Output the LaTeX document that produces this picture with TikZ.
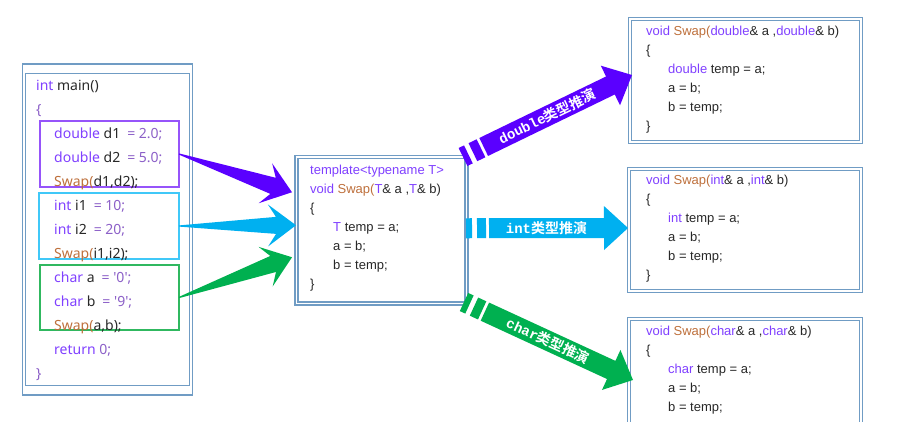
\documentclass[tikz,border=0pt]{standalone}
\usepackage{fontspec}
\setmainfont{Liberation Sans}
\newfontfamily\yaheifont{Noto Sans}
\newfontfamily\labelmono{Liberation Mono}
\newfontfamily\cjkfont{Noto Sans CJK SC}[BoldFont={Noto Sans CJK SC Bold}]
\usetikzlibrary{calc}

\definecolor{boxblue}{RGB}{112,156,196}
\definecolor{kwpurple}{RGB}{128,64,255}
\definecolor{numpurple}{RGB}{140,96,200}
\definecolor{fnbrown}{RGB}{190,112,60}
\definecolor{codegray}{RGB}{40,40,40}
\definecolor{dblpurple}{RGB}{90,0,255}
\definecolor{intcyan}{RGB}{0,176,240}
\definecolor{chargreen}{RGB}{0,176,80}
\definecolor{dblline}{RGB}{150,84,250}
\definecolor{intline}{RGB}{64,200,248}
\definecolor{charline}{RGB}{48,184,96}

\newcommand\kw[1]{\textcolor{kwpurple}{#1}}
\newcommand\nm[1]{\textcolor{numpurple}{#1}}
\newcommand\fn[1]{\textcolor{fnbrown}{#1}}
\newcommand\arrowlabel[2]{{\labelmono\bfseries #1}{\cjkfont\bfseries #2}}

% 太い矢印 (tail, tip, colour)
\newcommand\bigarrow[3]{%
  \fill[#3] ($(#1)!0.6pt!90:(#2)$) -- ($(#2)!20pt!(#1)!8.5pt!90:(#2)$)
    -- ($(#2)!28pt!(#1)!21pt!90:(#2)$) -- (#2)
    -- ($(#2)!28pt!(#1)!21pt!-90:(#2)$) -- ($(#2)!20pt!(#1)!8.5pt!-90:(#2)$)
    -- ($(#1)!0.6pt!-90:(#2)$) -- cycle;}

% 推演の矢印 (start, tip, colour, label)
\newcommand\thinarrow[4]{%
  \fill[#3] ($(#1)!10pt!90:(#2)$) -- ($(#1)!6pt!(#2)!10pt!90:(#2)$)
    -- ($(#1)!6pt!(#2)!10pt!-90:(#2)$) -- ($(#1)!10pt!-90:(#2)$) -- cycle;
  \fill[#3] ($(#1)!11pt!(#2)!10pt!90:(#2)$) -- ($(#1)!20pt!(#2)!10pt!90:(#2)$)
    -- ($(#1)!20pt!(#2)!10pt!-90:(#2)$) -- ($(#1)!11pt!(#2)!10pt!-90:(#2)$) -- cycle;
  \fill[#3] ($(#1)!23pt!(#2)!10pt!90:(#2)$) -- ($(#2)!24pt!(#1)!10pt!90:(#2)$)
    -- ($(#2)!24pt!(#1)!22pt!90:(#2)$) -- (#2)
    -- ($(#2)!24pt!(#1)!22pt!-90:(#2)$) -- ($(#2)!24pt!(#1)!10pt!-90:(#2)$)
    -- ($(#1)!23pt!(#2)!10pt!-90:(#2)$) -- cycle;
  \path ($(#1)!23pt!(#2)$) -- node[sloped, arrowtext] {#4} ($(#2)!24pt!(#1)$);}

\tikzset{
  frame/.style={draw=boxblue, line width=1.5pt, double=white, double distance=1.8pt,
    inner sep=0pt, outer sep=0pt, anchor=north west},
  frameline/.style={draw=boxblue, line width=1.6pt},
  groupbox/.style={draw=#1, line width=1.2pt, inner sep=0pt, outer sep=0pt, anchor=north west},
  maincode/.style={anchor=north west, inner sep=0pt, align=left, text=codegray,
    font=\yaheifont\fontsize{14}{24}\selectfont},
  swapcode/.style={anchor=north west, inner sep=0pt, align=left, text=codegray,
    font=\fontsize{13}{19}\selectfont},
  arrowtext/.style={text=white, inner sep=0pt, font=\fontsize{14}{14}\selectfont},
}

\begin{document}
\begin{tikzpicture}[x=1pt, y=-1pt]
  \clip (0,0) rectangle (921,421);
  \fill[white] (0,0) rectangle (921,421);

  % main関数
  \node[frameline, minimum width=170pt, minimum height=331pt, inner sep=0pt, outer sep=0pt,
    anchor=north west] (mainbox) at (22.5,64) {};
  \draw[frameline] ($(mainbox.north west)+(3,9.5)$) rectangle ($(mainbox.south east)+(-3,-9.5)$);
  \node[groupbox=dblline, minimum width=139pt, minimum height=66pt] (dblgroup) at (40,121) {};
  \node[groupbox=intline, minimum width=140pt, minimum height=66pt] (intgroup) at (39,193) {};
  \node[groupbox=charline, minimum width=139pt, minimum height=65pt] (chargroup) at (40,265) {};
  \node[maincode] (maintext) at (36,73.2) {\strut\kw{int} main()\\
    \nm{\{}\\
    \hspace*{18pt}\kw{double} d1\enspace\nm{= 2.0;}\\
    \hspace*{18pt}\kw{double} d2\enspace\nm{= 5.0;}\\
    \hspace*{18pt}\fn{Swap(}d1,d2);\\
    \hspace*{18pt}\kw{int} i1\enspace\nm{= 10;}\\
    \hspace*{18pt}\kw{int} i2\enspace\nm{= 20;}\\
    \hspace*{18pt}\fn{Swap(}i1,i2);\\
    \hspace*{18pt}\kw{char} a\enspace\nm{= \textquotesingle0\textquotesingle;}\\
    \hspace*{18pt}\kw{char} b\enspace\nm{= \textquotesingle9\textquotesingle;}\\
    \hspace*{18pt}\fn{Swap(}a,b);\\
    \hspace*{18pt}\kw{return} \nm{0;}\\
    \nm{\}}};

  % テンプレート
  \node[frame, minimum width=170pt, minimum height=146.5pt] (tmplbox) at (296.5,157) {};
  \node[swapcode] (tmpltext) at (310,160.5) {\strut\kw{template<typename T>}\\
    \kw{void} \fn{Swap(}\kw{T}\& a ,\kw{T}\& b)\\
    \{\\
    \hspace*{23pt}\kw{T} temp = a;\\
    \hspace*{23pt}a = b;\\
    \hspace*{23pt}b = temp;\\
    \}};

  % 推演結果
  \node[frame, minimum width=231pt, minimum height=123pt] (swapdbl) at (630,19) {};
  \node[frame, minimum width=232pt, minimum height=122pt] (swapint) at (629,169) {};
  \node[frame, minimum width=232pt, minimum height=140pt] (swapchar) at (629,319) {};
  \foreach \ty/\bx/\y/\cl in {double/swapdbl/21.5/\}, int/swapint/170.5/\}, char/swapchar/321.5/{}} {
    \node[swapcode] (\bx text) at (646,\y) {\strut\kw{void} \fn{Swap(}\kw{\ty}\& a ,\kw{\ty}\& b)\\
      \{\\
      \hspace*{22pt}\kw{\ty} temp = a;\\
      \hspace*{22pt}a = b;\\
      \hspace*{22pt}b = temp;\\
      \cl};
  }

  % 太い矢印
  \coordinate (dblTip) at ($(tmplbox.west)+(-4.5,-38)$);
  \coordinate (intTip) at ($(tmplbox.west)+(-0.5,-5)$);
  \coordinate (charTip) at ($(tmplbox.west)+(-4.5,27)$);
  \bigarrow{dblgroup.east}{dblTip}{dblpurple}
  \bigarrow{intgroup.east}{intTip}{intcyan}
  \bigarrow{chargroup.east}{charTip}{chargreen}

  % 推演の矢印
  \coordinate (dblFrom) at ($(tmplbox.north east)+(-3.5,0)$);
  \coordinate (dblTo) at ($(swapdbl.west)+(2,-5.5)$);
  \coordinate (intFrom) at ($(tmplbox.east)+(-0.5,-2)$);
  \coordinate (intTo) at ($(swapint.west)+(-1,-2)$);
  \coordinate (charFrom) at ($(tmplbox.south east)+(-2.5,-1.5)$);
  \coordinate (charTo) at ($(swapchar.north west)+(4,61)$);
  \thinarrow{dblFrom}{dblTo}{dblpurple}{\arrowlabel{double}{类型推演}}
  \thinarrow{intFrom}{intTo}{intcyan}{\arrowlabel{int}{类型推演}}
  \thinarrow{charFrom}{charTo}{chargreen}{\arrowlabel{char}{类型推演}}
\end{tikzpicture}
\end{document}
